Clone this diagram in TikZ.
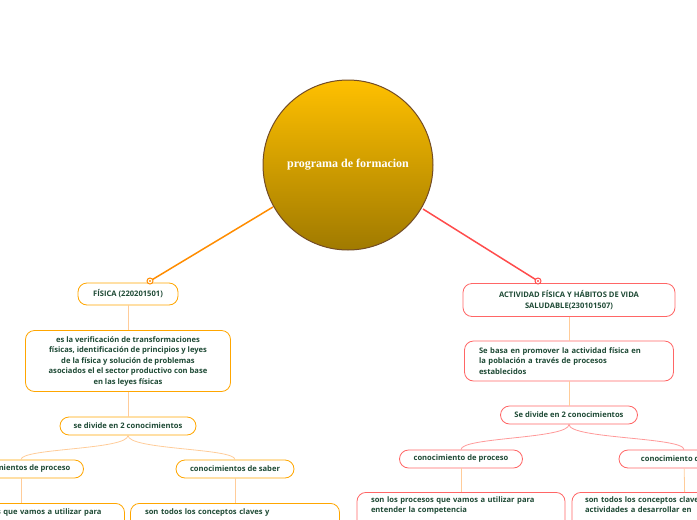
\documentclass[tikz,border=0pt]{standalone}
\usepackage{fontspec}
\setmainfont{Open Sans}
\newfontfamily\titlefont{Liberation Serif}
\definecolor{gtop}{HTML}{FFC000}
\definecolor{gbot}{HTML}{A07A00}
\definecolor{tcol}{HTML}{1E4A35}
\begin{document}
\begin{tikzpicture}[x=1pt,y=-1pt,
 txt/.style={font=\bfseries\fontsize{7.6}{10.5}\selectfont,text=tcol},
 lbox/.style={txt,draw=orange!70!yellow,line width=0.8pt,rounded corners=9pt,fill=white,align=center,inner sep=0pt},
 rbox/.style={txt,draw=red!60,line width=0.8pt,rounded corners=9pt,fill=white,align=left,inner sep=0pt},
 lline/.style={draw=orange!40,line width=0.8pt},
 rline/.style={draw=orange!40,line width=0.8pt}]
\useasboundingbox (0,0) rectangle (697,520);
\clip (0,0) rectangle (697,520);
% connectors
\coordinate (lm) at (150,281);
\coordinate (rm) at (538,281);
\draw[orange!90!yellow,line width=1.5pt] (273,207) -- (lm);
\draw[red!70,line width=1.5pt] (423,209) -- (rm);
\node[circle,shade,top color=gtop,bottom color=gbot,draw=brown!60!black,line width=1pt,minimum size=170pt,inner sep=0pt,
 font=\titlefont\bfseries\fontsize{12}{13}\selectfont,text=white] (c) at (348,165) {programa de formacion};
% left branch
\node[lbox,minimum width=100pt,minimum height=22pt] (f) at (128,294) {FÍSICA (220201501)};
\node[lbox,minimum width=205pt,minimum height=61pt] (fd) at (128,361) {es la verificación de transformaciones\\físicas, identificación de principios y leyes\\de la física y solución de problemas\\asociados el el sector productivo con base\\en las leyes físicas};
\node[lbox,minimum width=136pt,minimum height=18pt] (fs) at (128,426) {se divide en 2 conocimientos};
\node[lbox,minimum width=125pt,minimum height=18pt] (fp) at (21,469) {conocimientos de proceso};
\node[lbox,minimum width=118pt,minimum height=18pt] (fk) at (235,469) {conocimientos de saber};
\node[lbox,anchor=north,minimum width=215pt,inner ysep=5pt,align=left,text width=190pt] (fpd) at (17,503) {\hspace*{16pt}son los procesos que vamos a utilizar para\\\strut\\\strut};
\node[lbox,anchor=north,minimum width=209pt,inner ysep=5pt,align=left,text width=180pt] (fkd) at (235,503) {son todos los conceptos claves y\\\strut\\\strut};
\draw[lline] (f) -- (fd); \draw[lline] (fd) -- (fs);
\draw[lline] (fs.south) .. controls (128,450) and (21,448) .. (fp.north);
\draw[lline] (fs.south) .. controls (128,450) and (235,448) .. (fk.north);
\draw[lline] (fp.south) -- (fp.south |- fpd.north); \draw[lline] (fk) -- (fkd);
\draw[orange!90!yellow,line width=1pt,fill=white] (lm) circle (3pt);
\fill[orange!90!yellow] (lm) circle (1.2pt);
% right branch
\node[rbox,align=center,minimum width=212pt,minimum height=33pt] (a) at (569,300) {ACTIVIDAD FÍSICA Y HÁBITOS DE VIDA\\SALUDABLE(230101507)};
\node[rbox,minimum width=209pt,minimum height=40pt,text width=180pt] (ad) at (569,361) {Se basa en promover la actividad física en\\la población a través de procesos\\establecidos};
\node[rbox,minimum width=137pt,minimum height=18pt,align=center] (as) at (569,415) {Se divide en 2 conocimientos};
\node[rbox,minimum width=123pt,minimum height=18pt,align=center] (ap) at (461,459) {conocimiento de proceso};
\node[rbox,minimum width=130pt,minimum height=18pt,align=center] (ak) at (684,459) {conocimiento de saber};
\node[rbox,anchor=north,minimum width=208pt,inner ysep=4pt,text width=180pt] (apd) at (461,492) {son los procesos que vamos a utilizar para\\entender la competencia\\\strut};
\node[rbox,anchor=north,minimum width=226pt,inner ysep=4pt,text width=200pt] (akd) at (685,492) {son todos los conceptos claves y\\actividades a desarrollar en\\\strut};
\draw[rline] (a) -- (ad); \draw[rline] (ad) -- (as);
\draw[red!40,line width=0.8pt] (as.south) .. controls (569,439) and (461,437) .. (ap.north);
\draw[red!40,line width=0.8pt] (as.south) .. controls (569,439) and (684,437) .. (ak.north);
\draw[rline] (ap) -- (apd); \draw[rline] (ak) -- (akd);
\draw[red!70,line width=1pt,fill=white] (rm) circle (3pt);
\fill[red!70] (rm) circle (1.2pt);
\end{tikzpicture}
\end{document}
